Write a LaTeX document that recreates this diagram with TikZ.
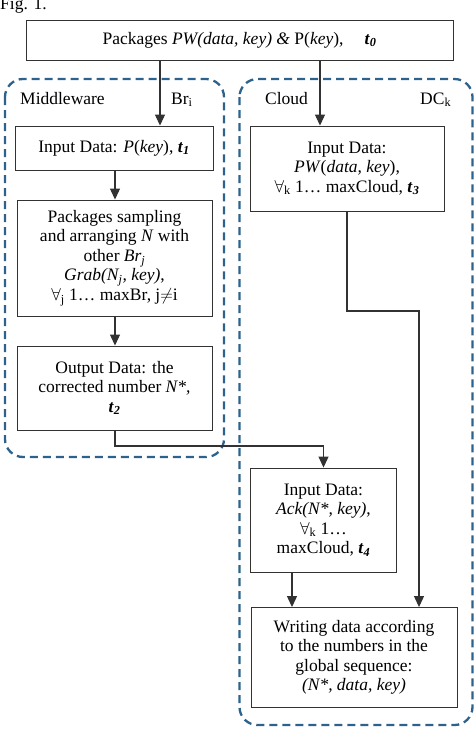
\documentclass[tikz,border=0pt]{standalone}
\usepackage{fontspec}
\setmainfont{Liberation Serif}
\usetikzlibrary{arrows.meta}
\definecolor{dashblue}{RGB}{44,98,140}
\definecolor{linegray}{RGB}{50,50,50}
\newcommand\fsz{\fontsize{17.5}{19.5}\selectfont}
\newcommand\bt[1]{\textbf{\textit{#1}}}
\tikzset{
  box/.style={draw=linegray, line width=0.9pt, fill=white, align=center, inner sep=1pt, font=\fsz},
  lbl/.style={anchor=base west, inner sep=0pt, font=\fsz},
  conn/.style={draw=linegray, line width=1.1pt, -{Triangle[width=10pt,length=11pt]}},
  plain/.style={draw=linegray, line width=1.1pt},
  grp/.style={draw=dashblue, line width=2.3pt, dash pattern=on 8pt off 5pt, rounded corners=18pt}
}
\begin{document}
\begin{tikzpicture}[x=1pt,y=-1pt]
\useasboundingbox (0,0) rectangle (474,731);
% caption fragment
\node[lbl] (fig) at (0,9) {Fig. 1.};
% group frames
\draw[grp] (5,79) rectangle (224,457);
\draw[grp] (239.5,79) rectangle (472.5,725);
% labels
\node[lbl] (mw) at (20,104) {Middleware};
\node[lbl] (br) at (171,104) {Br\textsubscript{i}};
\node[lbl] (cl) at (265,104) {Cloud};
\node[lbl] (dc) at (420,104) {DC\textsubscript{k}};
% boxes
\node[box, minimum width=427pt, minimum height=40pt] (top) at (239.5,40)
  {Packages \textit{PW(data, key) \&} P(\textit{key}),\hspace{1.2em}\bt{t}\textsubscript{\bt{0}}};
\node[box, minimum width=198pt, minimum height=44pt] (in1) at (114,148)
  {Input Data: \textit{P}(\textit{key}), \bt{t}\textsubscript{\bt{1}}};
\node[box, minimum width=195pt, minimum height=116pt] (samp) at (114.5,258)
  {Packages sampling\\and arranging \textit{N} with\\other \textit{Br\textsubscript{j}}\\\textit{Grab(N\textsubscript{j}, key)},\\$\forall$\textsubscript{j} 1\ldots\ maxBr, j$\neq$i};
\node[box, minimum width=195pt, minimum height=84pt] (out) at (114.5,388)
  {Output Data: the\\corrected number \textit{N*,}\\\bt{t}\textsubscript{\bt{2}}};
\node[box, minimum width=194pt, minimum height=85pt] (c1) at (347,168.5)
  {Input Data:\\\textit{PW}(\textit{data, key}),\\$\forall$\textsubscript{k} 1\ldots\ maxCloud, \bt{t}\textsubscript{\bt{3}}};
\node[box, minimum width=146pt, minimum height=104pt] (c2) at (323.5,520)
  {Input Data:\\\textit{Ack(N*, key)},\\$\forall$\textsubscript{k} 1\ldots\\maxCloud, \bt{t}\textsubscript{\bt{4}}};
\node[box, minimum width=206pt, minimum height=100pt] (wr) at (354,657.5)
  {Writing data according\\to the numbers in the\\global sequence:\\\textit{(N*, data, key)}};
% connector helper coordinates
\coordinate (xa) at (160,0);
\coordinate (xb) at (320,0);
\coordinate (xc) at (115,0);
\coordinate (xd) at (292,0);
\coordinate (xe) at (419,0);
\coordinate (ya) at (0,446);
\coordinate (yb) at (0,311);
% connectors
\draw[conn] (top.south -| xa) -- (in1.north -| xa);
\draw[conn] (top.south -| xb) -- (c1.north -| xb);
\draw[conn] (in1.south -| xc) -- (samp.north -| xc);
\draw[conn] (samp.south -| xc) -- (out.north -| xc);
\draw[conn] (out.south -| xc) -- (ya -| xc) -| (c2.north);
\draw[conn] (c2.south -| xd) -- (wr.north -| xd);
\draw[conn] (c1.south) -- (yb -| c1.south) -| (wr.north -| xe);
\end{tikzpicture}
\end{document}
